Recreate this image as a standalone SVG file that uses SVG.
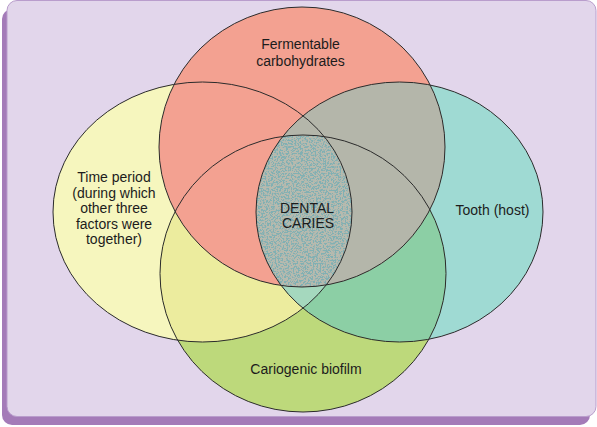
<svg xmlns="http://www.w3.org/2000/svg" width="597" height="427" viewBox="0 0 597 427">
  <defs>
    <style>
      .lbl { font-family: "Liberation Sans", Arial, sans-serif; font-size: 14px; fill: #1c1c1c; text-anchor: middle; }
      .outline { fill: none; stroke: #2b2b2b; stroke-width: 1; }
    </style>
    <clipPath id="cYellow"><ellipse cx="202.5" cy="212" rx="149.5" ry="130"/></clipPath>
    <clipPath id="cTeal"><ellipse cx="399.5" cy="212" rx="143.5" ry="130"/></clipPath>
    <clipPath id="cGreen"><ellipse cx="303" cy="273.5" rx="143" ry="138.5"/></clipPath>
    <clipPath id="cRed"><ellipse cx="302" cy="147" rx="143" ry="140"/></clipPath>
    <filter id="speckle" x="0" y="0" width="1" height="1">
      <feTurbulence type="fractalNoise" baseFrequency="0.6" numOctaves="2" seed="11" result="noise"/>
      <feColorMatrix in="noise" type="matrix" values="0 0 0 0 0.22  0 0 0 0 0.43  0 0 0 0 0.45  10 0 0 0 -4.8" result="dots"/>
      <feFlood flood-color="#b7baae" result="base"/>
      <feComposite in="dots" in2="base" operator="over"/>
    </filter>
  </defs>

  <g id="background">
    <rect x="2" y="9" width="588" height="416" rx="10" fill="#a47bb8"/>
    <rect x="7" y="0.5" width="589" height="416" rx="10" fill="#e2d6eb" stroke="#b99dcc" stroke-width="1"/>
  </g>

  <g id="node-time">
    <ellipse cx="202.5" cy="212" rx="149.5" ry="130" fill="#f6f6be"/>
    <text class="lbl" x="114" y="182">Time period</text>
    <text class="lbl" x="114" y="197.5">(during which</text>
    <text class="lbl" x="114" y="213">other three</text>
    <text class="lbl" x="114" y="228.5">factors were</text>
    <text class="lbl" x="114" y="244">together)</text>
  </g>

  <g id="node-tooth">
    <ellipse cx="399.5" cy="212" rx="143.5" ry="130" fill="#9fdad3"/>
    <text class="lbl" x="492.5" y="214.5">Tooth (host)</text>
  </g>

  <g id="node-biofilm">
    <ellipse cx="303" cy="273.5" rx="143" ry="138.5" fill="#bdd97b"/>
    <text class="lbl" x="306" y="374">Cariogenic biofilm</text>
  </g>

  <g id="overlaps-lower">
    <g clip-path="url(#cGreen)">
      <ellipse cx="202.5" cy="212" rx="149.5" ry="130" fill="#ecec9e"/>
      <ellipse cx="399.5" cy="212" rx="143.5" ry="130" fill="#8ccfa5"/>
      <g clip-path="url(#cYellow)">
        <ellipse cx="399.5" cy="212" rx="143.5" ry="130" fill="#a5d8be"/>
      </g>
    </g>
  </g>

  <g id="node-carbs">
    <ellipse cx="302" cy="147" rx="143" ry="140" fill="#f3a191"/>
    <text class="lbl" x="300.5" y="48.5">Fermentable</text>
    <text class="lbl" x="300.5" y="65.5">carbohydrates</text>
  </g>

  <g id="overlap-carbs-tooth">
    <g clip-path="url(#cRed)">
      <ellipse cx="399.5" cy="212" rx="143.5" ry="130" fill="#b4b6aa"/>
    </g>
  </g>

  <g id="node-caries">
    <g clip-path="url(#cRed)">
      <g clip-path="url(#cYellow)">
        <g clip-path="url(#cGreen)">
          <rect x="245" y="110" width="120" height="190" clip-path="url(#cTeal)" filter="url(#speckle)" fill="#b7baae"/>
        </g>
      </g>
    </g>
    <text class="lbl" x="307" y="212.5">DENTAL</text>
    <text class="lbl" x="308" y="228">CARIES</text>
  </g>

  <g id="connectors">
    <ellipse class="outline" cx="202.5" cy="212" rx="149.5" ry="130"/>
    <ellipse class="outline" cx="399.5" cy="212" rx="143.5" ry="130"/>
    <ellipse class="outline" cx="303" cy="273.5" rx="143" ry="138.5"/>
    <ellipse class="outline" cx="302" cy="147" rx="143" ry="140"/>
  </g>
</svg>
